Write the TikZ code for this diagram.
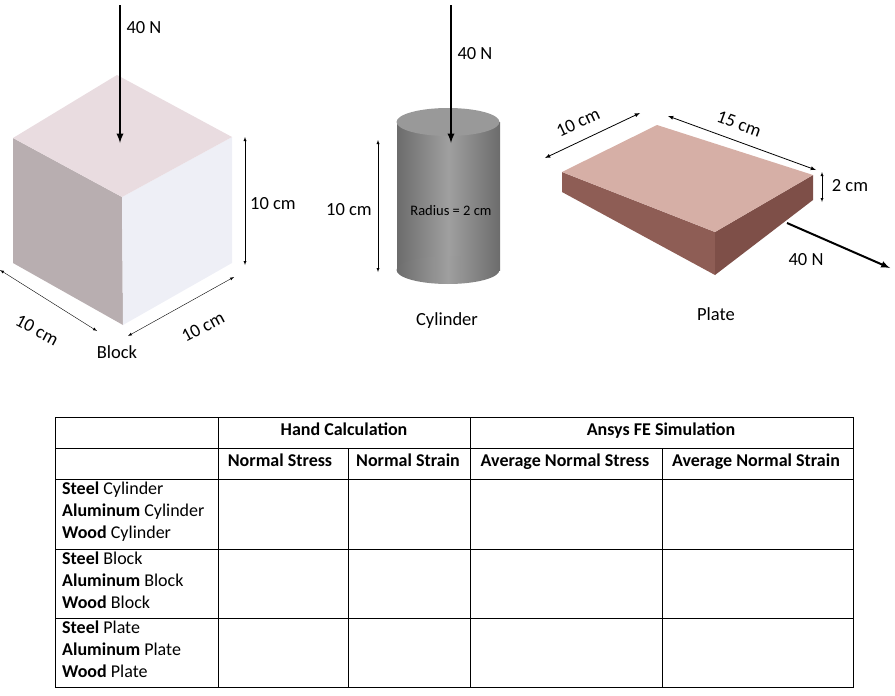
\documentclass[tikz,border=0pt]{standalone}
\usepackage{fontspec}
\setmainfont{Carlito}
\begin{document}
\begin{tikzpicture}[x=1pt,y=-1pt,
 dim/.style={<->,>=latex,thin},
 force/.style={-latex,line width=2.2pt},
 lab/.style={font=\fontsize{18.5}{20}\selectfont},
 hd/.style={font=\bfseries\fontsize{18}{20}\selectfont,text height=12pt,text depth=4pt},
 cell/.style={font=\fontsize{18}{22}\selectfont,align=left,anchor=north west,inner sep=2pt}]
\useasboundingbox (0,0) rectangle (895,696);
\definecolor{bleft}{HTML}{B8AEB0}
\definecolor{bright}{HTML}{EEEFF6}
\definecolor{btop}{HTML}{E9DCE0}
\definecolor{ptop}{HTML}{D6AFA6}
\definecolor{pside}{HTML}{8E5D55}
\definecolor{pside2}{HTML}{7E4F48}
% block
\fill[bleft] (13,138) -- (122,197) -- (123,325) -- (13,263) -- cycle;
\fill[bright] (122,197) -- (232,137) -- (232,263) -- (123,325) -- cycle;
\fill[btop] (13,138) -- (117,75) -- (232,137) -- (122,197) -- cycle;
\coordinate (bt) at (120,5); \coordinate (bb) at (120,143);
\draw[force] (bt) -- (bb);
\node[lab,anchor=north west] (bf) at (123,18) {40 N};
\coordinate (h1) at (245,137); \coordinate (h2) at (245,265);
\draw[dim] (h1) -- (h2);
\node[lab] (bh) at (273,204) {10 cm};
\coordinate (l1) at (0,270); \coordinate (l2) at (97,331);
\draw[dim] (l1) -- (l2);
\node[lab,rotate=-28] (bl) at (37,330) {10 cm};
\coordinate (r1) at (128,336); \coordinate (r2) at (234,277);
\draw[dim] (r1) -- (r2);
\node[lab,rotate=28] (br) at (203,327) {10 cm};
\node[lab] (block) at (117,352) {Block};
% cylinder
\shade[left color=gray!85!black,right color=gray!85!black,middle color=gray!75] (397,122) rectangle (500,270);
\shade[left color=gray!85!black,right color=gray!85!black,middle color=gray!75] (448,270) ellipse[x radius=51.5,y radius=14];
\fill[gray!80] (448,122) ellipse[x radius=51.5,y radius=14];
\coordinate (ct) at (451,5); \coordinate (cb) at (451,143);
\draw[force] (ct) -- (cb);
\node[lab,anchor=north west] (cf) at (454,44) {40 N};
\coordinate (c1) at (378,140); \coordinate (c2) at (378,272);
\draw[dim] (c1) -- (c2);
\node[lab] (ch) at (349,210) {10 cm};
\node[font=\fontsize{14.5}{16}\selectfont] (cr) at (451,211) {Radius = 2 cm};
\node[lab] (cyl) at (447,321) {Cylinder};
% plate
\fill[pside] (562,172) -- (715,232) -- (715,275) -- (562,192) -- cycle;
\fill[pside2] (715,232) -- (813,175) -- (813,200) -- (715,275) -- cycle;
\fill[ptop] (562,172) -- (657,125) -- (813,175) -- (715,232) -- cycle;
\coordinate (p1) at (545,158); \coordinate (p2) at (640,113);
\draw[dim,thick] (p1) -- (p2);
\node[lab,rotate=25] (pw) at (578,122) {10 cm};
\coordinate (p3) at (668,116); \coordinate (p4) at (816,170);
\draw[dim,thick] (p3) -- (p4);
\node[lab,rotate=-20] (pl) at (739,124) {15 cm};
\coordinate (p5) at (822,172); \coordinate (p6) at (822,202);
\draw[dim] (p5) -- (p6);
\node[lab] (pt) at (850,186) {2 cm};
\coordinate (p7) at (787,223); \coordinate (p8) at (890,268);
\draw[force,line width=2pt] (p7) -- (p8);
\node[lab] (pf) at (806,260) {40 N};
\node[lab] (plate) at (716,314) {Plate};
% table
\draw[thin] (55,417) rectangle (853,687);
\foreach \y in {448,479,549,618} \draw[thin] (55,\y) -- (853,\y);
\draw[thin] (218,417) -- (218,687);
\draw[thin] (470,417) -- (470,687);
\foreach \x in {348,662} \draw[thin] (\x,448) -- (\x,687);
\node[hd] (hc) at (344,431) {Hand Calculation};
\node[hd] (an) at (661,431) {Ansys FE Simulation};
\node[hd] (ns) at (280,462) {Normal Stress};
\node[hd] (ne) at (408,462) {Normal Strain};
\node[hd] (as) at (565,462) {Average Normal Stress};
\node[hd] (ae) at (756,462) {Average Normal Strain};
\node[cell] (r1c) at (60,480) {\textbf{Steel} Cylinder\\\textbf{Aluminum} Cylinder\\\textbf{Wood} Cylinder};
\node[cell] (r2c) at (60,550) {\textbf{Steel} Block\\\textbf{Aluminum} Block\\\textbf{Wood} Block};
\node[cell] (r3c) at (60,619) {\textbf{Steel} Plate\\\textbf{Aluminum} Plate\\\textbf{Wood} Plate};
\end{tikzpicture}
\end{document}
